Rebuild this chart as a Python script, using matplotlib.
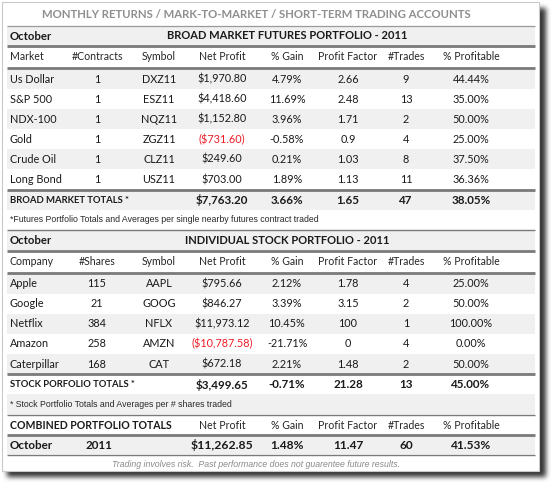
import numpy as np
import matplotlib
matplotlib.use("Agg")
import matplotlib.pyplot as plt
from matplotlib.patches import Rectangle

plt.rcParams['font.family'] = ['Lato', 'DejaVu Sans']

# ---- data ----
title = "MONTHLY RETURNS / MARK-TO-MARKET / SHORT-TERM TRADING ACCOUNTS"
month = "October"
year = "2011"

fut_headers = ["Market", "#Contracts", "Symbol", "Net Profit", "% Gain",
               "Profit Factor", "#Trades", "% Profitable"]
fut_markets = ["Us Dollar", "S&P 500", "NDX-100", "Gold", "Crude Oil", "Long Bond"]
fut_contracts = [1, 1, 1, 1, 1, 1]
fut_symbols = ["DXZ11", "ESZ11", "NQZ11", "ZGZ11", "CLZ11", "USZ11"]
fut_profit = [1970.80, 4418.60, 1152.80, -731.60, 249.60, 703.00]
fut_gain = [4.79, 11.69, 3.96, -0.58, 0.21, 1.89]
fut_pf = ["2.66", "2.48", "1.71", "0.9", "1.03", "1.13"]
fut_trades = [9, 13, 2, 4, 8, 11]
fut_pct = [44.44, 35.00, 50.00, 25.00, 37.50, 36.36]
fut_totals = [7763.20, 3.66, "1.65", 47, 38.05]

stk_headers = ["Company", "#Shares", "Symbol", "Net Profit", "% Gain",
               "Profit Factor", "#Trades", "% Profitable"]
stk_companies = ["Apple", "Google", "Netflix", "Amazon", "Caterpillar"]
stk_shares = [115, 21, 384, 258, 168]
stk_symbols = ["AAPL", "GOOG", "NFLX", "AMZN", "CAT"]
stk_profit = [795.66, 846.27, 11973.12, -10787.58, 672.18]
stk_gain = [2.12, 3.39, 10.45, -21.71, 2.21]
stk_pf = ["1.78", "3.15", "100", "0", "1.48"]
stk_trades = [4, 2, 1, 4, 2]
stk_pct = [25.00, 50.00, 100.00, 0.00, 50.00]
stk_totals = [3499.65, -0.71, "21.28", 13, 45.00]

comb_totals = [11262.85, 1.48, "11.47", 60, 41.53]

# column centres (px)
col_x = [10, 97, 159, 222, 287, 348, 406, 471]

GRAY_BG = "#f0f0f0"
LINE = "#7a7a7a"
RED = "#ee1c25"
TXT = "#1a1a1a"
NOTE_FONT = ["Liberation Sans", "DejaVu Sans"]


def money(v):
    if v < 0:
        return "(${:,.2f})".format(-v), RED
    return "${:,.2f}".format(v), TXT


fig = plt.figure(figsize=(5.54, 4.84), dpi=100)
ax = fig.add_axes([0, 0, 1, 1])
ax.set_xlim(0, 554)
ax.set_ylim(484, 0)
ax.axis("off")

# drop shadow
H, W = 484, 554
mask = np.zeros((H, W))
mask[8:477, 7:546] = 1.0
k = np.ones(5) / 5
for _ in range(3):
    mask = np.apply_along_axis(lambda r: np.convolve(r, k, mode="same"), 1, mask)
    mask = np.apply_along_axis(lambda c: np.convolve(c, k, mode="same"), 0, mask)
rgba = np.zeros((H, W, 4))
rgba[..., :3] = 0.12
rgba[..., 3] = mask * 0.9
ax.imshow(rgba, extent=(0, W, H, 0), interpolation="bilinear", zorder=0)

# card
ax.add_patch(Rectangle((2, 2), 537, 469, facecolor="white", edgecolor="#c9c9c9",
                       lw=0.8, zorder=1))

x0, x1 = 7, 535


def band(y0, y1, color=GRAY_BG):
    ax.add_patch(Rectangle((x0, y0), x1 - x0, y1 - y0, facecolor=color,
                           edgecolor="none", zorder=2))


def hline(y, lw=1.0, color=LINE):
    ax.plot([x0, x1], [y, y], color=color, lw=lw, solid_capstyle="butt", zorder=3)


def txt(x, y, s, ha="center", size=7.8, weight="normal", color=TXT, **kw):
    ax.text(x, y, s, ha=ha, va="center", fontsize=size, fontweight=weight,
            color=color, zorder=4, **kw)


def section(top, heading, headers, names, qty, syms, profit, gain, pf, trades, pct,
            shade_first):
    # month / section heading
    band(top, top + 19)
    txt(10, top + 10, month, ha="left", size=8.2, weight="bold")
    txt(287, top + 9.5, heading, size=8.0, weight="bold")
    hline(top + 20, lw=2.0)
    # column headers
    hy = top + 31
    for i, h in enumerate(headers):
        txt(col_x[i], hy, h, ha="left" if i == 0 else "center", size=7.6, color="#262626")
    hline(top + 42, lw=2.0)
    rt = top + 43
    rh = 20.1
    for r in range(len(names)):
        y0 = rt + r * rh
        if (r % 2 == 0) == shade_first:
            band(y0, y0 + rh)
        yc = y0 + rh / 2
        txt(col_x[0], yc, names[r], ha="left")
        txt(col_x[1], yc, str(qty[r]))
        txt(col_x[2], yc, syms[r])
        s, c = money(profit[r])
        txt(col_x[3], yc, s, color=c)
        txt(col_x[4], yc, "{:.2f}%".format(gain[r]))
        txt(col_x[5], yc, pf[r])
        txt(col_x[6], yc, str(trades[r]))
        txt(col_x[7], yc, "{:.2f}%".format(pct[r]))
    bot = rt + len(names) * rh
    hline(bot, lw=2.0)
    return bot


def totals_row(y, label, totals):
    txt(10, y, label, ha="left", size=6.8, weight="bold")
    s, c = money(totals[0])
    txt(col_x[3], y, s, size=8.4, weight="bold", color=c)
    txt(col_x[4], y, "{:.2f}%".format(totals[1]), size=8.4, weight="bold")
    txt(col_x[5], y, totals[2], size=8.4, weight="bold")
    txt(col_x[6], y, str(totals[3]), size=8.4, weight="bold")
    txt(col_x[7], y, "{:.2f}%".format(totals[4]), size=8.4, weight="bold")


# title
txt(256, 15, title, size=8.2, weight="bold", color="#8e8e8e")
hline(25.5, lw=0.9, color="#9a9a9a")

# futures section
bot = section(26, "BROAD MARKET FUTURES PORTFOLIO - 2011", fut_headers, fut_markets,
              fut_contracts, fut_symbols, fut_profit, fut_gain, fut_pf, fut_trades,
              fut_pct, True)
band(bot + 1, bot + 20)
totals_row(bot + 10.5, "BROAD MARKET TOTALS *", fut_totals)
txt(10, bot + 30, "*Futures Portfolio Totals and Averages per single nearby futures contract traded",
    ha="left", size=6.3, family=NOTE_FONT, color="#2a2a2a")
hline(bot + 40.5, lw=1.0)

# stock section
bot2 = section(bot + 41, "INDIVIDUAL STOCK PORTFOLIO - 2011", stk_headers, stk_companies,
               stk_shares, stk_symbols, stk_profit, stk_gain, stk_pf, stk_trades,
               stk_pct, True)
totals_row(bot2 + 10.5, "STOCK PORFOLIO TOTALS *", stk_totals)
band(bot2 + 20, bot2 + 40)
txt(10, bot2 + 30, "* Stock Portfolio Totals and Averages per # shares traded",
    ha="left", size=6.3, family=NOTE_FONT, color="#2a2a2a")
hline(bot2 + 40.5, lw=1.0)

# combined
cy = bot2 + 51
txt(10, cy, "COMBINED PORTFOLIO TOTALS", ha="left", size=7.6, weight="bold")
for i in range(3, 8):
    txt(col_x[i], cy, fut_headers[i], size=7.6, color="#262626")
hline(bot2 + 61, lw=2.0)
band(bot2 + 62, bot2 + 80)
oy = bot2 + 71
txt(10, oy, month, ha="left", size=8.4, weight="bold")
txt(99, oy, year, size=8.4, weight="bold")
s, c = money(comb_totals[0])
txt(col_x[3], oy, s, size=8.8, weight="bold", color=c)
txt(col_x[4], oy, "{:.2f}%".format(comb_totals[1]), size=8.6, weight="bold")
txt(col_x[5], oy, comb_totals[2], size=8.6, weight="bold")
txt(col_x[6], oy, str(comb_totals[3]), size=8.6, weight="bold")
txt(col_x[7], oy, "{:.2f}%".format(comb_totals[4]), size=8.6, weight="bold")
hline(bot2 + 81, lw=1.0)

txt(256, bot2 + 90, "Trading involves risk.  Past performance does not guarentee future results.",
    size=6.3, style="italic", color="#8a8a8a", family=NOTE_FONT)

fig.savefig("out.png", dpi=100)
